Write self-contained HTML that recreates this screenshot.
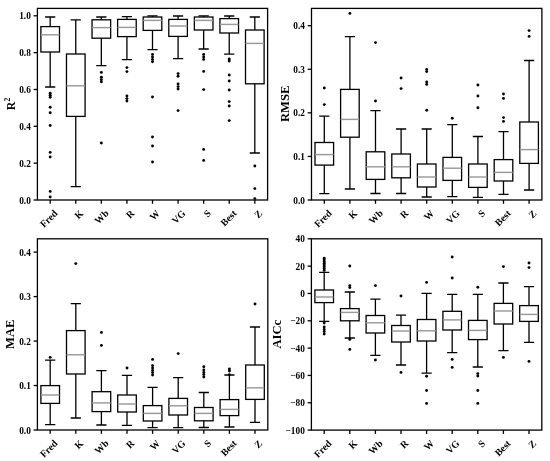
<!DOCTYPE html>
<html><head><meta charset="utf-8"><title>Boxplots</title>
<style>html,body{margin:0;padding:0;background:#fff}svg{display:block}</style></head>
<body>
<svg width="550" height="461" viewBox="0 0 550 461" font-family="'Liberation Serif', 'Times New Roman', serif" font-weight="bold">
<rect width="550" height="461" fill="#fff"/>
<g stroke="#000" stroke-width="1.3" fill="none">
<rect x="37.4" y="8.4" width="230.20" height="191.60"/>
<line x1="33.6" y1="200.00" x2="37.4" y2="200.00"/>
<line x1="33.6" y1="163.16" x2="37.4" y2="163.16"/>
<line x1="33.6" y1="126.32" x2="37.4" y2="126.32"/>
<line x1="33.6" y1="89.48" x2="37.4" y2="89.48"/>
<line x1="33.6" y1="52.64" x2="37.4" y2="52.64"/>
<line x1="33.6" y1="15.80" x2="37.4" y2="15.80"/>
<line x1="50.19" y1="200.0" x2="50.19" y2="203.8"/>
<path d="M45.09 17H55.29M50.19 17V26.6M50.19 52V87M45.09 87H55.29"/>
<rect x="40.89" y="26.6" width="18.6" height="25.40"/>
<line x1="75.77" y1="200.0" x2="75.77" y2="203.8"/>
<path d="M70.67 19.8H80.87M75.77 19.8V54M75.77 116.4V186.6M70.67 186.6H80.87"/>
<rect x="66.47" y="54" width="18.6" height="62.40"/>
<line x1="101.34" y1="200.0" x2="101.34" y2="203.8"/>
<path d="M96.24 17H106.44M101.34 17V19.8M101.34 38.2V65.6M96.24 65.6H106.44"/>
<rect x="92.04" y="19.8" width="18.6" height="18.40"/>
<line x1="126.92" y1="200.0" x2="126.92" y2="203.8"/>
<path d="M121.82 16.6H132.02M126.92 16.6V19.4M126.92 36.6V59.6M121.82 59.6H132.02"/>
<rect x="117.62" y="19.4" width="18.6" height="17.20"/>
<line x1="152.50" y1="200.0" x2="152.50" y2="203.8"/>
<path d="M147.40 15.8H157.60M152.50 15.8V17M152.50 30.4V49.6M147.40 49.6H157.60"/>
<rect x="143.20" y="17" width="18.6" height="13.40"/>
<line x1="178.08" y1="200.0" x2="178.08" y2="203.8"/>
<path d="M172.98 16H183.18M178.08 16V19.4M178.08 36.4V58.6M172.98 58.6H183.18"/>
<rect x="168.78" y="19.4" width="18.6" height="17.00"/>
<line x1="203.66" y1="200.0" x2="203.66" y2="203.8"/>
<path d="M198.56 15.8H208.76M203.66 15.8V17M203.66 30V49M198.56 49H208.76"/>
<rect x="194.36" y="17" width="18.6" height="13.00"/>
<line x1="229.23" y1="200.0" x2="229.23" y2="203.8"/>
<path d="M224.13 16H234.33M229.23 16V18.6M229.23 33V54.2M224.13 54.2H234.33"/>
<rect x="219.93" y="18.6" width="18.6" height="14.40"/>
<line x1="254.81" y1="200.0" x2="254.81" y2="203.8"/>
<path d="M249.71 17H259.91M254.81 17V30M254.81 83.8V153M249.71 153H259.91"/>
<rect x="245.51" y="30" width="18.6" height="53.80"/>
</g>
<g stroke="#999" stroke-width="1.45">
<line x1="40.89" y1="34.8" x2="59.49" y2="34.8"/>
<line x1="66.47" y1="85.80000000000001" x2="85.07" y2="85.80000000000001"/>
<line x1="92.04" y1="27.599999999999998" x2="110.64" y2="27.599999999999998"/>
<line x1="117.62" y1="27.4" x2="136.22" y2="27.4"/>
<line x1="143.20" y1="20.4" x2="161.80" y2="20.4"/>
<line x1="168.78" y1="26.0" x2="187.38" y2="26.0"/>
<line x1="194.36" y1="20.4" x2="212.96" y2="20.4"/>
<line x1="219.93" y1="24.4" x2="238.53" y2="24.4"/>
<line x1="245.51" y1="43.4" x2="264.11" y2="43.4"/>
</g>
<g fill="#000">
<circle cx="50.19" cy="93.2" r="1.45"/>
<circle cx="50.19" cy="95.2" r="1.45"/>
<circle cx="50.19" cy="97.2" r="1.45"/>
<circle cx="50.19" cy="107.2" r="1.45"/>
<circle cx="50.19" cy="112.7" r="1.45"/>
<circle cx="50.19" cy="125.5" r="1.45"/>
<circle cx="50.19" cy="152.4" r="1.45"/>
<circle cx="50.19" cy="157" r="1.45"/>
<circle cx="50.19" cy="191.4" r="1.45"/>
<circle cx="50.19" cy="197" r="1.45"/>
<circle cx="101.34" cy="72.4" r="1.45"/>
<circle cx="101.34" cy="77.3" r="1.45"/>
<circle cx="101.34" cy="79.6" r="1.45"/>
<circle cx="101.34" cy="81.8" r="1.45"/>
<circle cx="101.34" cy="143" r="1.45"/>
<circle cx="126.92" cy="67.6" r="1.45"/>
<circle cx="126.92" cy="71.6" r="1.45"/>
<circle cx="126.92" cy="96" r="1.45"/>
<circle cx="126.92" cy="98.6" r="1.45"/>
<circle cx="126.92" cy="101" r="1.45"/>
<circle cx="152.50" cy="54.4" r="1.45"/>
<circle cx="152.50" cy="57" r="1.45"/>
<circle cx="152.50" cy="59.4" r="1.45"/>
<circle cx="152.50" cy="61.8" r="1.45"/>
<circle cx="152.50" cy="97" r="1.45"/>
<circle cx="152.50" cy="137" r="1.45"/>
<circle cx="152.50" cy="146" r="1.45"/>
<circle cx="152.50" cy="162" r="1.45"/>
<circle cx="178.08" cy="73.6" r="1.45"/>
<circle cx="178.08" cy="76.3" r="1.45"/>
<circle cx="178.08" cy="84" r="1.45"/>
<circle cx="178.08" cy="86.6" r="1.45"/>
<circle cx="178.08" cy="89" r="1.45"/>
<circle cx="178.08" cy="110.6" r="1.45"/>
<circle cx="203.66" cy="54.4" r="1.45"/>
<circle cx="203.66" cy="57" r="1.45"/>
<circle cx="203.66" cy="59.4" r="1.45"/>
<circle cx="203.66" cy="71.4" r="1.45"/>
<circle cx="203.66" cy="89.6" r="1.45"/>
<circle cx="203.66" cy="149.4" r="1.45"/>
<circle cx="203.66" cy="160.4" r="1.45"/>
<circle cx="229.23" cy="59" r="1.45"/>
<circle cx="229.23" cy="61" r="1.45"/>
<circle cx="229.23" cy="75" r="1.45"/>
<circle cx="229.23" cy="81" r="1.45"/>
<circle cx="229.23" cy="90" r="1.45"/>
<circle cx="229.23" cy="101.6" r="1.45"/>
<circle cx="229.23" cy="106" r="1.45"/>
<circle cx="229.23" cy="120.6" r="1.45"/>
<circle cx="254.81" cy="166" r="1.45"/>
<circle cx="254.81" cy="188.6" r="1.45"/>
<circle cx="254.81" cy="198.6" r="1.45"/>
</g>
<g font-size="9.3" text-anchor="end">
<text x="30.80" y="203.55">0.0</text>
<text x="30.80" y="166.71">0.2</text>
<text x="30.80" y="129.87">0.4</text>
<text x="30.80" y="93.03">0.6</text>
<text x="30.80" y="56.19">0.8</text>
<text x="30.80" y="19.35">1.0</text>
</g>
<g font-size="9.8" text-anchor="end">
<text transform="translate(58.19 214.00) rotate(-45)">Fred</text>
<text transform="translate(83.77 214.00) rotate(-45)">K</text>
<text transform="translate(109.34 214.00) rotate(-45)">Wb</text>
<text transform="translate(134.92 214.00) rotate(-45)">R</text>
<text transform="translate(160.50 214.00) rotate(-45)">W</text>
<text transform="translate(186.08 214.00) rotate(-45)">VG</text>
<text transform="translate(211.66 214.00) rotate(-45)">S</text>
<text transform="translate(237.23 214.00) rotate(-45)">Best</text>
<text transform="translate(262.81 214.00) rotate(-45)">Z</text>
</g>
<text font-size="11.9" transform="translate(14.6 110.2) rotate(-90)">R<tspan font-size="7.6" dy="-5.1">2</tspan></text>
<g stroke="#000" stroke-width="1.3" fill="none">
<rect x="311.5" y="8.4" width="230.40" height="191.60"/>
<line x1="307.7" y1="200.00" x2="311.5" y2="200.00"/>
<line x1="307.7" y1="156.43" x2="311.5" y2="156.43"/>
<line x1="307.7" y1="112.85" x2="311.5" y2="112.85"/>
<line x1="307.7" y1="69.28" x2="311.5" y2="69.28"/>
<line x1="307.7" y1="25.70" x2="311.5" y2="25.70"/>
<line x1="324.30" y1="200.0" x2="324.30" y2="203.8"/>
<path d="M319.20 116.2H329.40M324.30 116.2V142.5M324.30 165.1V193.6M319.20 193.6H329.40"/>
<rect x="315.00" y="142.5" width="18.6" height="22.60"/>
<line x1="349.90" y1="200.0" x2="349.90" y2="203.8"/>
<path d="M344.80 36.6H355.00M349.90 36.6V89.4M349.90 137.2V189M344.80 189H355.00"/>
<rect x="340.60" y="89.4" width="18.6" height="47.80"/>
<line x1="375.50" y1="200.0" x2="375.50" y2="203.8"/>
<path d="M370.40 110.6H380.60M375.50 110.6V151.8M375.50 179.4V193.5M370.40 193.5H380.60"/>
<rect x="366.20" y="151.8" width="18.6" height="27.60"/>
<line x1="401.10" y1="200.0" x2="401.10" y2="203.8"/>
<path d="M396.00 129H406.20M401.10 129V154M401.10 177.8V193.5M396.00 193.5H406.20"/>
<rect x="391.80" y="154" width="18.6" height="23.80"/>
<line x1="426.70" y1="200.0" x2="426.70" y2="203.8"/>
<path d="M421.60 129H431.80M426.70 129V164M426.70 187V197M421.60 197H431.80"/>
<rect x="417.40" y="164" width="18.6" height="23.00"/>
<line x1="452.30" y1="200.0" x2="452.30" y2="203.8"/>
<path d="M447.20 124.7H457.40M452.30 124.7V157.4M452.30 180.4V196.6M447.20 196.6H457.40"/>
<rect x="443.00" y="157.4" width="18.6" height="23.00"/>
<line x1="477.90" y1="200.0" x2="477.90" y2="203.8"/>
<path d="M472.80 136.5H483.00M477.90 136.5V164M477.90 187.4V197.4M472.80 197.4H483.00"/>
<rect x="468.60" y="164" width="18.6" height="23.40"/>
<line x1="503.50" y1="200.0" x2="503.50" y2="203.8"/>
<path d="M498.40 131.6H508.60M503.50 131.6V159.6M503.50 181V194.4M498.40 194.4H508.60"/>
<rect x="494.20" y="159.6" width="18.6" height="21.40"/>
<line x1="529.10" y1="200.0" x2="529.10" y2="203.8"/>
<path d="M524.00 60.5H534.20M529.10 60.5V122M529.10 163.4V190M524.00 190H534.20"/>
<rect x="519.80" y="122" width="18.6" height="41.40"/>
</g>
<g stroke="#999" stroke-width="1.45">
<line x1="315.00" y1="154.6" x2="333.60" y2="154.6"/>
<line x1="340.60" y1="119.4" x2="359.20" y2="119.4"/>
<line x1="366.20" y1="166.8" x2="384.80" y2="166.8"/>
<line x1="391.80" y1="166.8" x2="410.40" y2="166.8"/>
<line x1="417.40" y1="177.0" x2="436.00" y2="177.0"/>
<line x1="443.00" y1="168.20000000000002" x2="461.60" y2="168.20000000000002"/>
<line x1="468.60" y1="177.0" x2="487.20" y2="177.0"/>
<line x1="494.20" y1="172.4" x2="512.80" y2="172.4"/>
<line x1="519.80" y1="149.6" x2="538.40" y2="149.6"/>
</g>
<g fill="#000">
<circle cx="324.30" cy="88" r="1.45"/>
<circle cx="324.30" cy="104.6" r="1.45"/>
<circle cx="349.90" cy="13.4" r="1.45"/>
<circle cx="375.50" cy="42.6" r="1.45"/>
<circle cx="375.50" cy="101" r="1.45"/>
<circle cx="401.10" cy="78" r="1.45"/>
<circle cx="401.10" cy="88.6" r="1.45"/>
<circle cx="426.70" cy="69.4" r="1.45"/>
<circle cx="426.70" cy="71.6" r="1.45"/>
<circle cx="426.70" cy="82" r="1.45"/>
<circle cx="426.70" cy="84.4" r="1.45"/>
<circle cx="426.70" cy="110.2" r="1.45"/>
<circle cx="452.30" cy="118.2" r="1.45"/>
<circle cx="477.90" cy="85" r="1.45"/>
<circle cx="477.90" cy="96" r="1.45"/>
<circle cx="477.90" cy="107.8" r="1.45"/>
<circle cx="503.50" cy="94" r="1.45"/>
<circle cx="503.50" cy="98.4" r="1.45"/>
<circle cx="503.50" cy="117.6" r="1.45"/>
<circle cx="503.50" cy="121.4" r="1.45"/>
<circle cx="529.10" cy="30.6" r="1.45"/>
<circle cx="529.10" cy="36.4" r="1.45"/>
</g>
<g font-size="9.3" text-anchor="end">
<text x="304.90" y="203.55">0.0</text>
<text x="304.90" y="159.98">0.1</text>
<text x="304.90" y="116.40">0.2</text>
<text x="304.90" y="72.83">0.3</text>
<text x="304.90" y="29.25">0.4</text>
</g>
<g font-size="9.8" text-anchor="end">
<text transform="translate(332.30 214.00) rotate(-45)">Fred</text>
<text transform="translate(357.90 214.00) rotate(-45)">K</text>
<text transform="translate(383.50 214.00) rotate(-45)">Wb</text>
<text transform="translate(409.10 214.00) rotate(-45)">R</text>
<text transform="translate(434.70 214.00) rotate(-45)">W</text>
<text transform="translate(460.30 214.00) rotate(-45)">VG</text>
<text transform="translate(485.90 214.00) rotate(-45)">S</text>
<text transform="translate(511.50 214.00) rotate(-45)">Best</text>
<text transform="translate(537.10 214.00) rotate(-45)">Z</text>
</g>
<text font-size="12.6" text-anchor="middle" transform="translate(289.2 103.8) rotate(-90)">RMSE</text>
<g stroke="#000" stroke-width="1.3" fill="none">
<rect x="37.4" y="238.8" width="230.40" height="191.20"/>
<line x1="33.6" y1="430.00" x2="37.4" y2="430.00"/>
<line x1="33.6" y1="385.52" x2="37.4" y2="385.52"/>
<line x1="33.6" y1="341.05" x2="37.4" y2="341.05"/>
<line x1="33.6" y1="296.58" x2="37.4" y2="296.58"/>
<line x1="33.6" y1="252.10" x2="37.4" y2="252.10"/>
<line x1="50.20" y1="430.0" x2="50.20" y2="433.8"/>
<path d="M45.10 360.2H55.30M50.20 360.2V385.6M50.20 403.4V424.6M45.10 424.6H55.30"/>
<rect x="40.90" y="385.6" width="18.6" height="17.80"/>
<line x1="75.80" y1="430.0" x2="75.80" y2="433.8"/>
<path d="M70.70 303.6H80.90M75.80 303.6V330.6M75.80 374V418M70.70 418H80.90"/>
<rect x="66.50" y="330.6" width="18.6" height="43.40"/>
<line x1="101.40" y1="430.0" x2="101.40" y2="433.8"/>
<path d="M96.30 370.6H106.50M101.40 370.6V391.7M101.40 411.6V425M96.30 425H106.50"/>
<rect x="92.10" y="391.7" width="18.6" height="19.90"/>
<line x1="127.00" y1="430.0" x2="127.00" y2="433.8"/>
<path d="M121.90 375.4H132.10M127.00 375.4V395M127.00 412V425.4M121.90 425.4H132.10"/>
<rect x="117.70" y="395" width="18.6" height="17.00"/>
<line x1="152.60" y1="430.0" x2="152.60" y2="433.8"/>
<path d="M147.50 387.4H157.70M152.60 387.4V405.6M152.60 421V427.6M147.50 427.6H157.70"/>
<rect x="143.30" y="405.6" width="18.6" height="15.40"/>
<line x1="178.20" y1="430.0" x2="178.20" y2="433.8"/>
<path d="M173.10 377.6H183.30M178.20 377.6V398.4M178.20 415V427.6M173.10 427.6H183.30"/>
<rect x="168.90" y="398.4" width="18.6" height="16.60"/>
<line x1="203.80" y1="430.0" x2="203.80" y2="433.8"/>
<path d="M198.70 392.5H208.90M203.80 392.5V407.5M203.80 420.8V427.5M198.70 427.5H208.90"/>
<rect x="194.50" y="407.5" width="18.6" height="13.30"/>
<line x1="229.40" y1="430.0" x2="229.40" y2="433.8"/>
<path d="M224.30 375H234.50M229.40 375V399.6M229.40 415.6V427M224.30 427H234.50"/>
<rect x="220.10" y="399.6" width="18.6" height="16.00"/>
<line x1="255.00" y1="430.0" x2="255.00" y2="433.8"/>
<path d="M249.90 327H260.10M255.00 327V365M255.00 399.4V422.4M249.90 422.4H260.10"/>
<rect x="245.70" y="365" width="18.6" height="34.40"/>
</g>
<g stroke="#999" stroke-width="1.45">
<line x1="40.90" y1="395.0" x2="59.50" y2="395.0"/>
<line x1="66.50" y1="354.79999999999995" x2="85.10" y2="354.79999999999995"/>
<line x1="92.10" y1="402.9" x2="110.70" y2="402.9"/>
<line x1="117.70" y1="404.0" x2="136.30" y2="404.0"/>
<line x1="143.30" y1="413.4" x2="161.90" y2="413.4"/>
<line x1="168.90" y1="405.79999999999995" x2="187.50" y2="405.79999999999995"/>
<line x1="194.50" y1="413.4" x2="213.10" y2="413.4"/>
<line x1="220.10" y1="409.4" x2="238.70" y2="409.4"/>
<line x1="245.70" y1="387.79999999999995" x2="264.30" y2="387.79999999999995"/>
</g>
<g fill="#000">
<circle cx="50.20" cy="357.4" r="1.45"/>
<circle cx="75.80" cy="263.6" r="1.45"/>
<circle cx="101.40" cy="332.4" r="1.45"/>
<circle cx="101.40" cy="345.4" r="1.45"/>
<circle cx="127.00" cy="368" r="1.45"/>
<circle cx="152.60" cy="359.4" r="1.45"/>
<circle cx="152.60" cy="365.6" r="1.45"/>
<circle cx="152.60" cy="368" r="1.45"/>
<circle cx="152.60" cy="370.4" r="1.45"/>
<circle cx="152.60" cy="372.6" r="1.45"/>
<circle cx="152.60" cy="375" r="1.45"/>
<circle cx="178.20" cy="353.6" r="1.45"/>
<circle cx="203.80" cy="366.8" r="1.45"/>
<circle cx="203.80" cy="370" r="1.45"/>
<circle cx="203.80" cy="372.4" r="1.45"/>
<circle cx="203.80" cy="374.6" r="1.45"/>
<circle cx="203.80" cy="377" r="1.45"/>
<circle cx="229.40" cy="369" r="1.45"/>
<circle cx="229.40" cy="371" r="1.45"/>
<circle cx="229.40" cy="374.6" r="1.45"/>
<circle cx="255.00" cy="304" r="1.45"/>
</g>
<g font-size="9.3" text-anchor="end">
<text x="30.80" y="433.55">0.0</text>
<text x="30.80" y="389.07">0.1</text>
<text x="30.80" y="344.60">0.2</text>
<text x="30.80" y="300.13">0.3</text>
<text x="30.80" y="255.65">0.4</text>
</g>
<g font-size="9.8" text-anchor="end">
<text transform="translate(58.20 444.00) rotate(-45)">Fred</text>
<text transform="translate(83.80 444.00) rotate(-45)">K</text>
<text transform="translate(109.40 444.00) rotate(-45)">Wb</text>
<text transform="translate(135.00 444.00) rotate(-45)">R</text>
<text transform="translate(160.60 444.00) rotate(-45)">W</text>
<text transform="translate(186.20 444.00) rotate(-45)">VG</text>
<text transform="translate(211.80 444.00) rotate(-45)">S</text>
<text transform="translate(237.40 444.00) rotate(-45)">Best</text>
<text transform="translate(263.00 444.00) rotate(-45)">Z</text>
</g>
<text font-size="12.6" text-anchor="middle" transform="translate(14.2 334.2) rotate(-90)">MAE</text>
<g stroke="#000" stroke-width="1.3" fill="none">
<rect x="311.4" y="238.8" width="230.40" height="191.30"/>
<line x1="307.59999999999997" y1="430.10" x2="311.4" y2="430.10"/>
<line x1="307.59999999999997" y1="402.77" x2="311.4" y2="402.77"/>
<line x1="307.59999999999997" y1="375.44" x2="311.4" y2="375.44"/>
<line x1="307.59999999999997" y1="348.11" x2="311.4" y2="348.11"/>
<line x1="307.59999999999997" y1="320.79" x2="311.4" y2="320.79"/>
<line x1="307.59999999999997" y1="293.46" x2="311.4" y2="293.46"/>
<line x1="307.59999999999997" y1="266.13" x2="311.4" y2="266.13"/>
<line x1="307.59999999999997" y1="238.80" x2="311.4" y2="238.80"/>
<line x1="324.20" y1="430.1" x2="324.20" y2="433.90000000000003"/>
<path d="M319.10 272.4H329.30M324.20 272.4V290M324.20 302.6V321.4M319.10 321.4H329.30"/>
<rect x="314.90" y="290" width="18.6" height="12.60"/>
<line x1="349.80" y1="430.1" x2="349.80" y2="433.90000000000003"/>
<path d="M344.70 292H354.90M349.80 292V308.6M349.80 320.8V338M344.70 338H354.90"/>
<rect x="340.50" y="308.6" width="18.6" height="12.20"/>
<line x1="375.40" y1="430.1" x2="375.40" y2="433.90000000000003"/>
<path d="M370.30 299.2H380.50M375.40 299.2V315.5M375.40 333V355.4M370.30 355.4H380.50"/>
<rect x="366.10" y="315.5" width="18.6" height="17.50"/>
<line x1="401.00" y1="430.1" x2="401.00" y2="433.90000000000003"/>
<path d="M395.90 315.2H406.10M401.00 315.2V325.5M401.00 342V365M395.90 365H406.10"/>
<rect x="391.70" y="325.5" width="18.6" height="16.50"/>
<line x1="426.60" y1="430.1" x2="426.60" y2="433.90000000000003"/>
<path d="M421.50 293.4H431.70M426.60 293.4V319.5M426.60 341V373.1M421.50 373.1H431.70"/>
<rect x="417.30" y="319.5" width="18.6" height="21.50"/>
<line x1="452.20" y1="430.1" x2="452.20" y2="433.90000000000003"/>
<path d="M447.10 294.4H457.30M452.20 294.4V311.3M452.20 330V352.6M447.10 352.6H457.30"/>
<rect x="442.90" y="311.3" width="18.6" height="18.70"/>
<line x1="477.80" y1="430.1" x2="477.80" y2="433.90000000000003"/>
<path d="M472.70 294.4H482.90M477.80 294.4V320.4M477.80 339.6V367M472.70 367H482.90"/>
<rect x="468.50" y="320.4" width="18.6" height="19.20"/>
<line x1="503.40" y1="430.1" x2="503.40" y2="433.90000000000003"/>
<path d="M498.30 283H508.50M503.40 283V303.4M503.40 324V350.6M498.30 350.6H508.50"/>
<rect x="494.10" y="303.4" width="18.6" height="20.60"/>
<line x1="529.00" y1="430.1" x2="529.00" y2="433.90000000000003"/>
<path d="M523.90 286.6H534.10M529.00 286.6V305.6M529.00 321.4V342.4M523.90 342.4H534.10"/>
<rect x="519.70" y="305.6" width="18.6" height="15.80"/>
</g>
<g stroke="#999" stroke-width="1.45">
<line x1="314.90" y1="297.0" x2="333.50" y2="297.0"/>
<line x1="340.50" y1="312.4" x2="359.10" y2="312.4"/>
<line x1="366.10" y1="322.79999999999995" x2="384.70" y2="322.79999999999995"/>
<line x1="391.70" y1="331.0" x2="410.30" y2="331.0"/>
<line x1="417.30" y1="330.79999999999995" x2="435.90" y2="330.79999999999995"/>
<line x1="442.90" y1="319.9" x2="461.50" y2="319.9"/>
<line x1="468.50" y1="330.4" x2="487.10" y2="330.4"/>
<line x1="494.10" y1="311.0" x2="512.70" y2="311.0"/>
<line x1="519.70" y1="314.4" x2="538.30" y2="314.4"/>
</g>
<g fill="#000">
<circle cx="324.20" cy="258.2" r="1.45"/>
<circle cx="324.20" cy="260" r="1.45"/>
<circle cx="324.20" cy="261.6" r="1.45"/>
<circle cx="324.20" cy="263.2" r="1.45"/>
<circle cx="324.20" cy="264.8" r="1.45"/>
<circle cx="324.20" cy="266.5" r="1.45"/>
<circle cx="324.20" cy="268.4" r="1.45"/>
<circle cx="324.20" cy="270.4" r="1.45"/>
<circle cx="324.20" cy="323" r="1.45"/>
<circle cx="324.20" cy="327" r="1.45"/>
<circle cx="324.20" cy="329.4" r="1.45"/>
<circle cx="324.20" cy="331.6" r="1.45"/>
<circle cx="324.20" cy="334" r="1.45"/>
<circle cx="349.80" cy="266" r="1.45"/>
<circle cx="349.80" cy="285.6" r="1.45"/>
<circle cx="349.80" cy="287.6" r="1.45"/>
<circle cx="349.80" cy="339.4" r="1.45"/>
<circle cx="349.80" cy="349.4" r="1.45"/>
<circle cx="375.40" cy="285.6" r="1.45"/>
<circle cx="375.40" cy="360" r="1.45"/>
<circle cx="401.00" cy="296" r="1.45"/>
<circle cx="401.00" cy="372.4" r="1.45"/>
<circle cx="426.60" cy="282.4" r="1.45"/>
<circle cx="426.60" cy="376.2" r="1.45"/>
<circle cx="426.60" cy="390.5" r="1.45"/>
<circle cx="426.60" cy="403.4" r="1.45"/>
<circle cx="452.20" cy="257" r="1.45"/>
<circle cx="452.20" cy="278" r="1.45"/>
<circle cx="452.20" cy="359.4" r="1.45"/>
<circle cx="452.20" cy="367.4" r="1.45"/>
<circle cx="477.80" cy="287.2" r="1.45"/>
<circle cx="477.80" cy="373.6" r="1.45"/>
<circle cx="477.80" cy="376" r="1.45"/>
<circle cx="477.80" cy="390.5" r="1.45"/>
<circle cx="477.80" cy="403.4" r="1.45"/>
<circle cx="503.40" cy="266.6" r="1.45"/>
<circle cx="503.40" cy="357.4" r="1.45"/>
<circle cx="529.00" cy="263" r="1.45"/>
<circle cx="529.00" cy="267.6" r="1.45"/>
<circle cx="529.00" cy="361.4" r="1.45"/>
</g>
<g font-size="9.3" text-anchor="end">
<text x="304.80" y="433.65">−100</text>
<text x="304.80" y="406.32">−80</text>
<text x="304.80" y="378.99">−60</text>
<text x="304.80" y="351.66">−40</text>
<text x="304.80" y="324.34">−20</text>
<text x="304.80" y="297.01">0</text>
<text x="304.80" y="269.68">20</text>
<text x="304.80" y="242.35">40</text>
</g>
<g font-size="9.8" text-anchor="end">
<text transform="translate(332.20 444.10) rotate(-45)">Fred</text>
<text transform="translate(357.80 444.10) rotate(-45)">K</text>
<text transform="translate(383.40 444.10) rotate(-45)">Wb</text>
<text transform="translate(409.00 444.10) rotate(-45)">R</text>
<text transform="translate(434.60 444.10) rotate(-45)">W</text>
<text transform="translate(460.20 444.10) rotate(-45)">VG</text>
<text transform="translate(485.80 444.10) rotate(-45)">S</text>
<text transform="translate(511.40 444.10) rotate(-45)">Best</text>
<text transform="translate(537.00 444.10) rotate(-45)">Z</text>
</g>
<text font-size="12.6" text-anchor="middle" transform="translate(280.9 334.2) rotate(-90)">AICc</text>
</svg>
</body></html>
